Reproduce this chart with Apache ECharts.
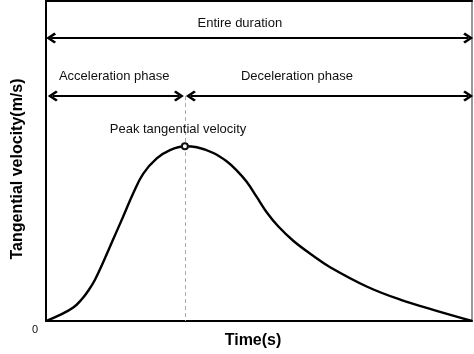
<!DOCTYPE html>
<html>
<head>
<meta charset="utf-8">
<script src="https://cdn.jsdelivr.net/npm/echarts@6/dist/echarts.min.js"></script>
<style>
  html, body { margin: 0; padding: 0; background: #fff; }
  #chart { width: 474px; height: 354px; }
</style>
</head>
<body>
<div id="chart"></div>
<script>
// velocity profile, time and velocity both in % of the plot range
var timePct = [0, 3.3, 6.4, 8.4, 10, 11.5, 13.5, 15.8, 18.1, 20.5, 22.8, 26.0, 29.1, 32.6,
  35.4, 39.3, 42.4, 44.8, 47.1, 49.5, 51.8, 54.5, 58.1, 62.7, 66.7, 75.4, 83.3, 91.1, 100];
var velocity = [0, 1.9, 4.2, 6.8, 9.6, 12.9, 18.6, 25.6, 32.6, 40.0, 46.0, 50.8, 53.4, 54.6,
  54.3, 52.5, 49.9, 47.0, 43.5, 38.7, 34.0, 29.6, 25.0, 20.4, 16.8, 10.7, 6.6, 3.4, 0];
var peak = [32.6, 54.6];

// arrows: [label, start time, end time, level]
var arrows = [
  ['Entire duration', 1.2, 99.1, 88.4],
  ['Acceleration phase', 1.6, 31.2, 70.3],
  ['Deceleration phase', 34.0, 99.1, 70.3]
];
// where each arrow label sits
var arrowLabelPos = [[45.5, 93.1], [16.0, 76.3], [58.9, 76.3]];
var peakLabel = 'Peak tangential velocity';
var peakLabelPos = [31.0, 60.0];
var yTitle = 'Tangential velocity(m/s)';
var xTitle = 'Time(s)';

var FONT = '"Liberation Sans", Arial, sans-serif';
// open arrow head, drawn as a filled chevron
var chevron = 'path://M50,0 L100,72 L84,88 L50,38 L16,88 L0,72 Z';

var chart = echarts.init(document.getElementById('chart'));

var lineData = timePct.map(function (t, i) { return [t, velocity[i]]; });

var markLines = arrows.map(function (a) {
  return [{ coord: [a[1], a[3]] }, { coord: [a[2], a[3]] }];
});
// dashed guide from peak time down to the axis
markLines.push([
  { coord: [peak[0], arrows[1][3]], symbol: 'none', lineStyle: { type: [4, 3], color: '#aaa', width: 1 } },
  { coord: [peak[0], 0], symbol: 'none' }
]);

var textStyle = { color: '#111', fontFamily: FONT, fontSize: 13 };
var markPoints = arrows.map(function (a, i) {
  return {
    coord: arrowLabelPos[i], symbol: 'circle', symbolSize: 1,
    itemStyle: { color: 'rgba(0,0,0,0)' },
    label: Object.assign({ show: true, position: 'inside', formatter: a[0] }, textStyle)
  };
});
markPoints.push({
  coord: peakLabelPos, symbol: 'circle', symbolSize: 1,
  itemStyle: { color: 'rgba(0,0,0,0)' },
  label: Object.assign({ show: true, position: 'inside', formatter: peakLabel }, textStyle)
});
markPoints.push({
  coord: peak, symbol: 'emptyCircle', symbolSize: 6,
  itemStyle: { color: '#111', borderColor: '#111', borderWidth: 1.5 },
  label: { show: false }
});

var hidden = { axisTick: { show: false }, axisLabel: { show: false }, splitLine: { show: false } };

var option = {
  animation: false,
  grid: { left: 46, right: 2, top: 1, bottom: 33 },
  xAxis: [Object.assign({
    type: 'value', min: 0, max: 100,
    axisLine: { show: true, onZero: false, lineStyle: { color: '#000', width: 2 } }
  }, hidden), Object.assign({
    type: 'value', min: 0, max: 100, position: 'top',
    axisLine: { show: true, onZero: false, lineStyle: { color: '#000', width: 2 } }
  }, hidden)],
  yAxis: [{
    type: 'value', min: 0, max: 100, interval: 100,
    axisLine: { show: true, onZero: false, lineStyle: { color: '#000', width: 2 } },
    axisTick: { show: false }, splitLine: { show: false },
    axisLabel: {
      margin: 8, color: '#111', fontFamily: FONT, fontSize: 11, verticalAlign: 'top',
      padding: [3, 0, 0, 0],
      formatter: function (v) { return v === 0 ? '0' : ''; }
    }
  }, Object.assign({
    type: 'value', min: 0, max: 100, position: 'right',
    axisLine: { show: true, onZero: false, lineStyle: { color: '#999', width: 2 } }
  }, hidden)],
  graphic: [{
    type: 'text',
    style: { text: xTitle, x: 253, y: 341, align: 'center', verticalAlign: 'middle',
      fill: '#000', font: 'bold 16px ' + FONT }
  }, {
    type: 'text', x: 18, y: 169, rotation: Math.PI / 2,
    style: { text: yTitle, align: 'center', verticalAlign: 'middle',
      fill: '#000', font: 'bold 16px ' + FONT }
  }],
  series: [{
    type: 'line',
    data: lineData,
    smooth: 0.4,
    showSymbol: false,
    lineStyle: { color: '#000', width: 2.4 },
    markLine: {
      silent: true,
      symbol: [chevron, chevron],
      symbolSize: [11, 10],
      label: { show: false },
      lineStyle: { color: '#000', width: 2, type: 'solid' },
      data: markLines
    },
    markPoint: { silent: true, data: markPoints }
  }]
};
chart.setOption(option);
</script>
</body>
</html>
